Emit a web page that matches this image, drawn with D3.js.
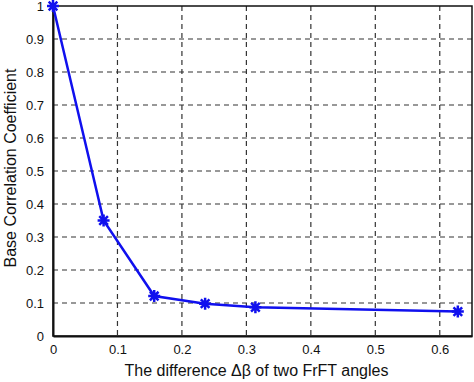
<!DOCTYPE html>
<html>
<head>
<meta charset="utf-8">
<script src="https://cdn.jsdelivr.net/npm/d3@7"></script>
<style>
body { margin:0; background:#fff; }
text { font-family: "Liberation Sans", Arial, sans-serif; }
</style>
</head>
<body>
<div id="chart"></div>
<script>
var xValues = [0, 0.0785, 0.157, 0.236, 0.314, 0.628];
var yValues = [1, 0.35, 0.121, 0.098, 0.087, 0.074];
var xTicks = [0, 0.1, 0.2, 0.3, 0.4, 0.5, 0.6];
var yTicks = [0, 0.1, 0.2, 0.3, 0.4, 0.5, 0.6, 0.7, 0.8, 0.9, 1];

var W = 474, H = 382;
var margin = {top:6, bottom:46, left:53, right:2};
var width = W - margin.left - margin.right;
var height = H - margin.top - margin.bottom;

var svg = d3.select("#chart")
    .append("svg")
    .attr("width", W)
    .attr("height", H)
    .append("g")
    .attr("transform", "translate(" + margin.left + "," + margin.top + ")");

var x = d3.scaleLinear().domain([0, 0.65]).range([0, width]);
var y = d3.scaleLinear().domain([0, 1]).range([height, 0]);

// grid
svg.append("g").selectAll("line.vg")
    .data(xTicks.slice(1))
    .enter().append("line")
    .attr("x1", d => x(d)).attr("x2", d => x(d))
    .attr("y1", 0).attr("y2", height)
    .style("stroke", "#333").style("stroke-width", 1.2)
    .style("stroke-dasharray", "5,4");

svg.append("g").selectAll("line.hg")
    .data(yTicks.slice(1, -1))
    .enter().append("line")
    .attr("y1", d => y(d)).attr("y2", d => y(d))
    .attr("x1", 0).attr("x2", width)
    .style("stroke", "#333").style("stroke-width", 1.2)
    .style("stroke-dasharray", "5,4");

// box
svg.append("rect")
    .attr("width", width).attr("height", height)
    .style("fill", "none").style("stroke", "#111").style("stroke-width", 1.5);

// axes
var xAxis = svg.append("g")
    .attr("transform", "translate(0," + height + ")")
    .call(d3.axisBottom(x).tickValues(xTicks).tickSize(0).tickPadding(9).tickFormat(d3.format("")));
var yAxis = svg.append("g")
    .call(d3.axisLeft(y).tickValues(yTicks).tickSize(0).tickPadding(9).tickFormat(d3.format("")));
[xAxis, yAxis].forEach(function(a){
  a.select(".domain").style("stroke", "#111").style("stroke-width", 2);
  a.selectAll("text").style("font-size", "13px").style("fill", "#111")
    .style("font-family", "'Liberation Sans', Arial, sans-serif");
});

// line
var line = d3.line().x((d, i) => x(xValues[i])).y(d => y(d));
svg.append("path")
    .datum(yValues)
    .attr("d", line)
    .style("fill", "none")
    .style("stroke", "#1010ee")
    .style("stroke-width", 2.5);

// asterisk markers
var r = 6;
var starPath = "M" + (-r) + ",0L" + r + ",0M0," + (-r) + "L0," + r +
    "M" + (-r*0.72) + "," + (-r*0.72) + "L" + (r*0.72) + "," + (r*0.72) +
    "M" + (-r*0.72) + "," + (r*0.72) + "L" + (r*0.72) + "," + (-r*0.72);
svg.append("g").selectAll("path.m")
    .data(yValues)
    .enter().append("path")
    .attr("transform", (d, i) => "translate(" + x(xValues[i]) + "," + y(d) + ")")
    .attr("d", starPath)
    .style("fill", "none")
    .style("stroke", "#1010ee")
    .style("stroke-width", 2.5);

// titles
svg.append("text")
    .attr("x", width/2 - 6)
    .attr("y", height + 40)
    .style("text-anchor", "middle")
    .style("font-size", "16px")
    .style("fill", "#111")
    .text("The difference \u0394\u03B2 of two FrFT angles");

svg.append("text")
    .attr("transform", "rotate(-90)")
    .attr("x", -height/2 + 3)
    .attr("y", -37)
    .style("text-anchor", "middle")
    .style("font-size", "16px")
    .style("fill", "#111")
    .text("Base Correlation Coefficient");
</script>
</body>
</html>
